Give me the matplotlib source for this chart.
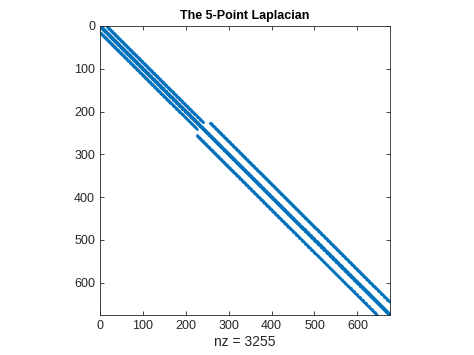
# spy plot of the 5-point Laplacian on an L-shaped grid
import numpy as np
import matplotlib.pyplot as plt

plt.rcParams['font.family'] = ['Liberation Sans', 'DejaVu Sans']

# grid as in numgrid('L', 32): 30x30 interior, lower-left quadrant removed
grid_n = 32
tick_vals = [0, 100, 200, 300, 400, 500, 600]
title_text = 'The 5-Point Laplacian'

# build the region and number it column by column
x = np.linspace(-1, 1, grid_n)
X = np.tile(x, (grid_n, 1))
Y = np.flipud(X.T)
G = (X > -1) & (X < 1) & (Y > -1) & (Y < 1) & ((X > 0) | (Y > 0))
num = np.zeros(G.shape, dtype=int)
num.T[G.T] = np.arange(1, G.sum() + 1)
N = G.sum()

rows = []
cols = []
for j in range(grid_n):
    for i in range(grid_n):
        if num[i, j] == 0:
            continue
        p = num[i, j]
        rows.append(p); cols.append(p)
        for di, dj in [(-1, 0), (1, 0), (0, -1), (0, 1)]:
            q = num[i + di, j + dj]
            if q > 0:
                rows.append(p); cols.append(q)
rows = np.array(rows)
cols = np.array(cols)
nz = len(rows)

fig = plt.figure(figsize=(4.74, 3.55), dpi=100)
ax = fig.add_axes([100/474, 40/355, 290/474, 289/355])
ax.plot(cols, rows, 'o', ms=1.9, mew=0, color='#0072BD')
ax.set_xlim(0, N + 1)
ax.set_ylim(N + 1, 0)
ax.set_xticks(tick_vals)
ax.set_yticks(tick_vals)
ax.tick_params(direction='in', top=True, right=True, length=3,
               labelsize=9, colors='#262626', width=0.6)
for s in ax.spines.values():
    s.set_color('#262626')
    s.set_linewidth(0.6)
ax.set_title(title_text, fontsize=9, fontweight='bold', color='black', pad=5)
ax.set_xlabel('nz = %d' % nz, fontsize=10, color='#262626', labelpad=2)

fig.savefig('out.png', dpi=100)
